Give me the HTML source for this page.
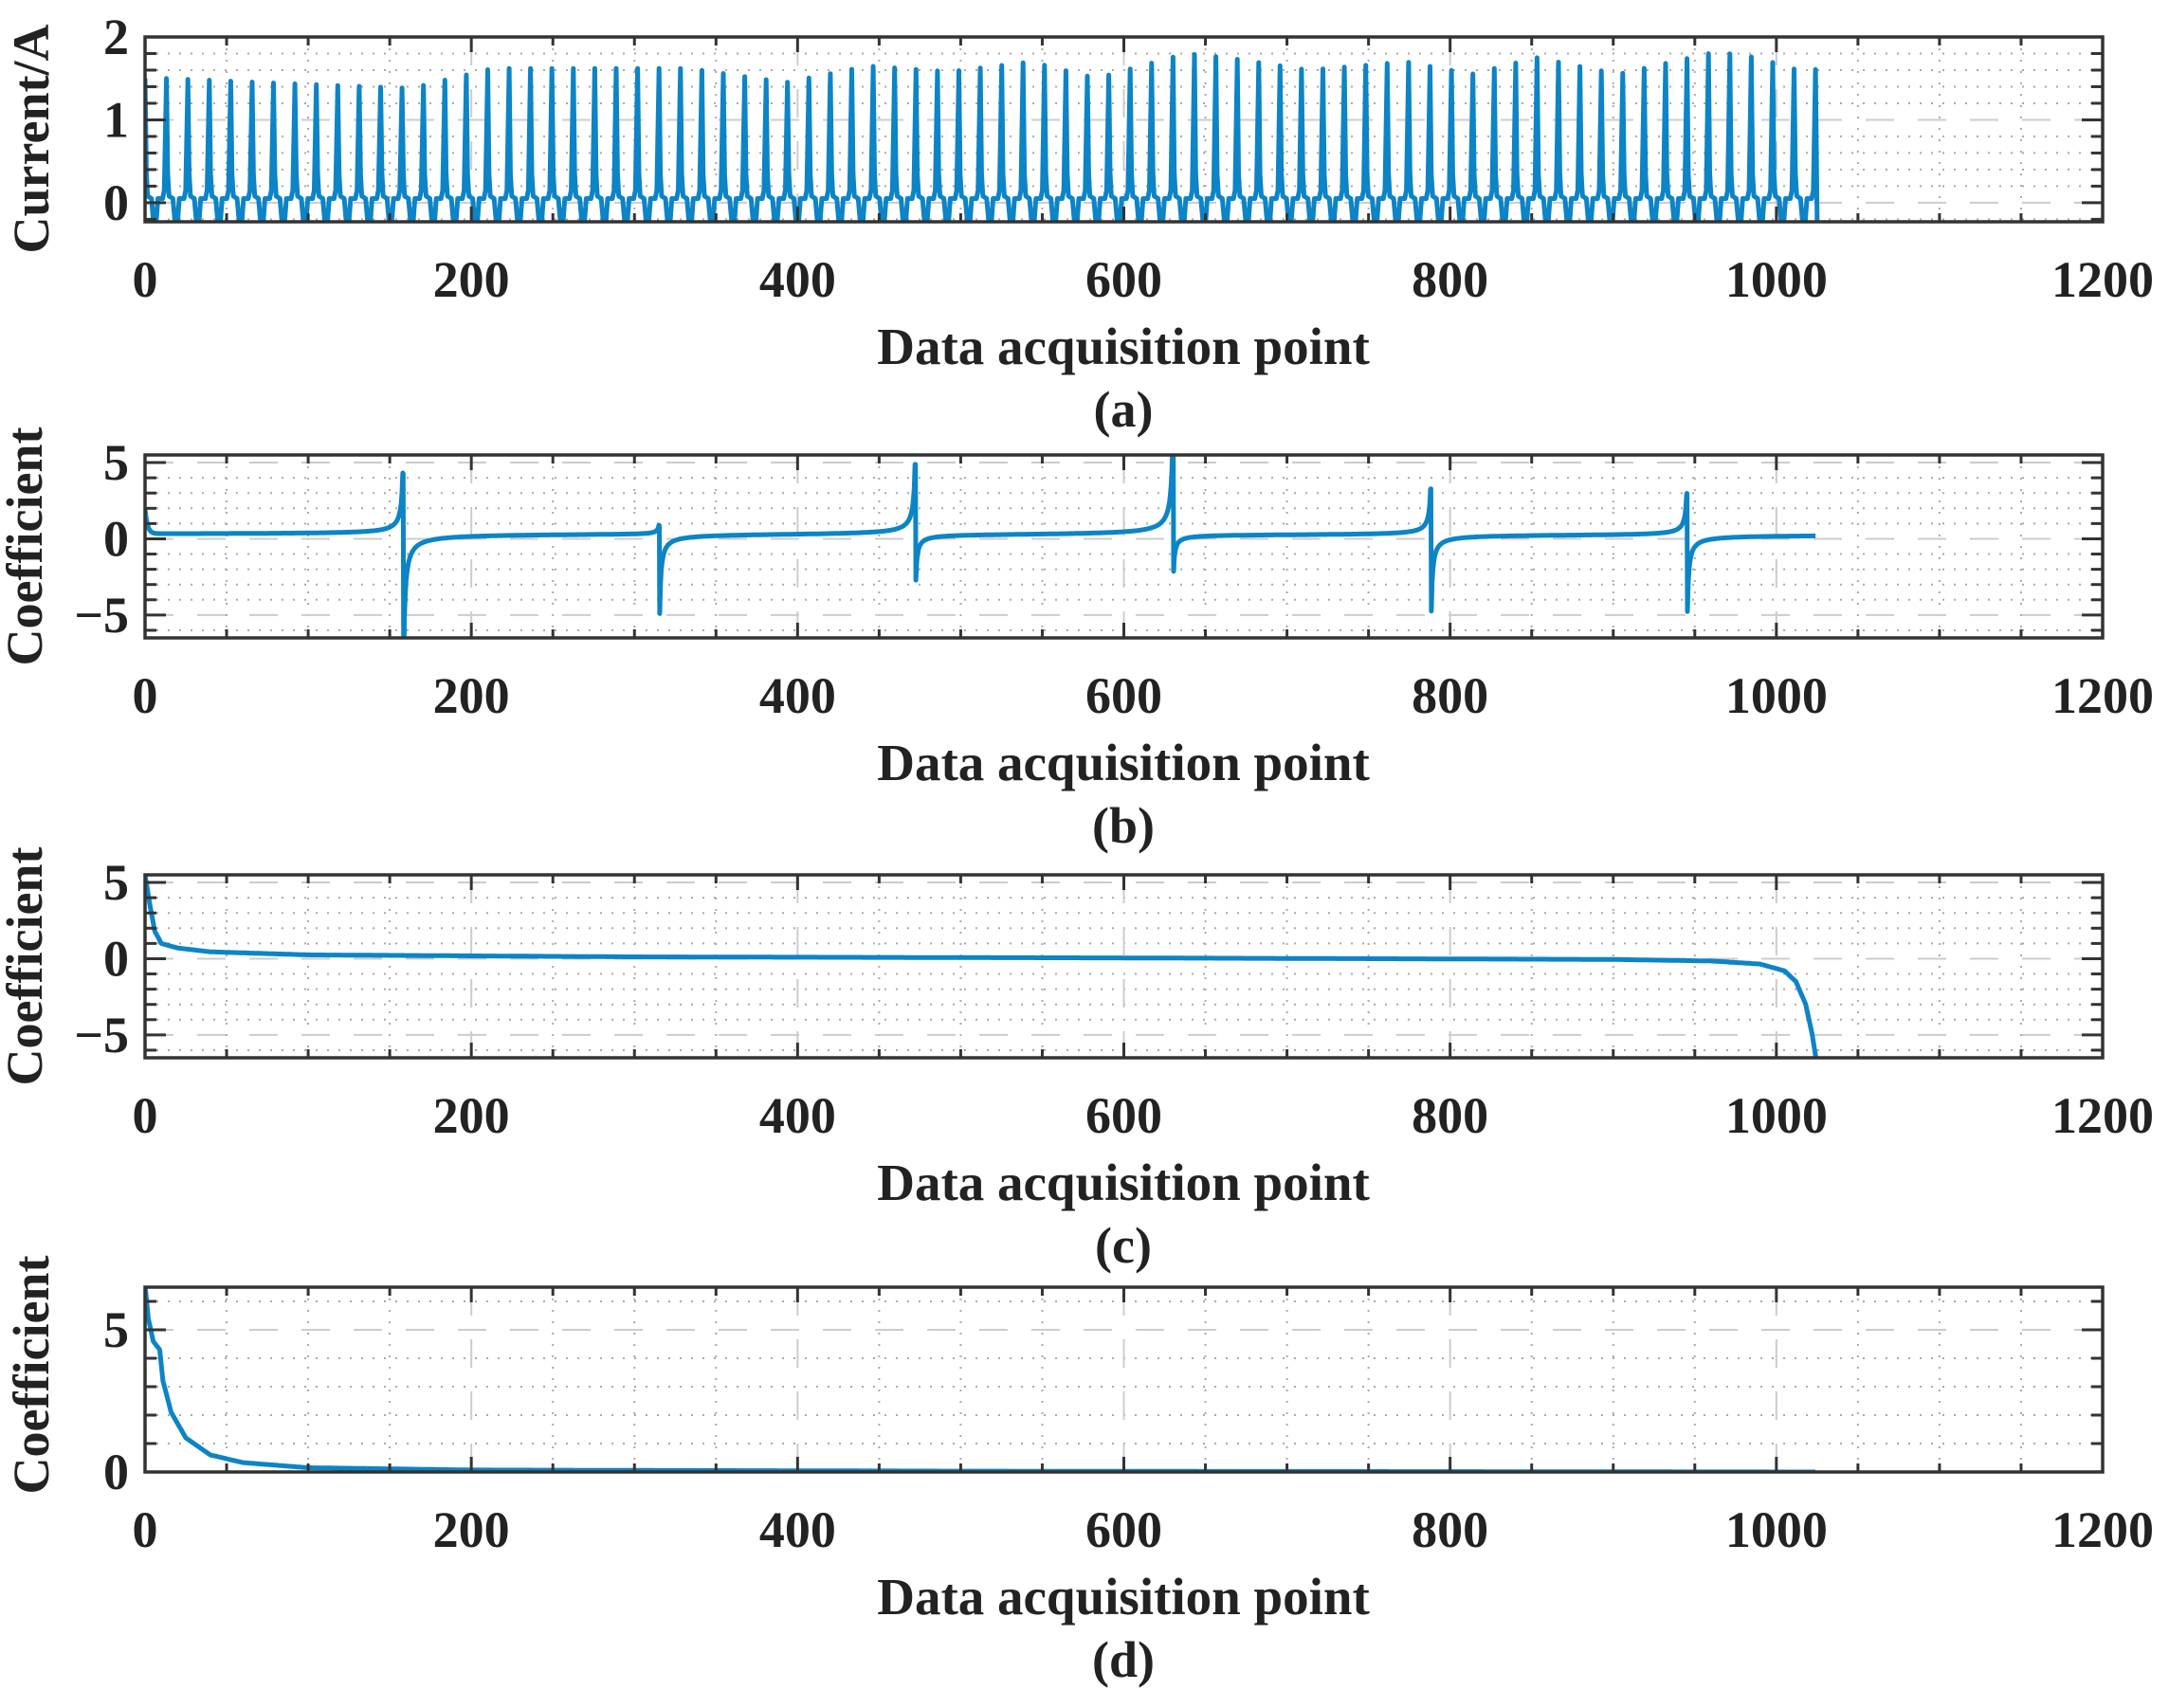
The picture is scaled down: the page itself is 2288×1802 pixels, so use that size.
<!DOCTYPE html>
<html><head><meta charset="utf-8"><style>
html,body{margin:0;padding:0;background:#fff;}
svg text{font-family:"Liberation Serif",serif;font-weight:bold;fill:#222;}
</style></head><body>
<svg id="s" xmlns="http://www.w3.org/2000/svg" width="2288" height="1797" viewBox="0 0 2288 1797"></svg>
<script>
const S=document.getElementById('s');const NS='http://www.w3.org/2000/svg';
function el(t,a,txt){const e=document.createElementNS(NS,t);for(const k in a)e.setAttribute(k,a[k]);if(txt!==undefined)e.textContent=txt;S.appendChild(e);return e;}
const L=153,R=2218;
const X=v=>L+(R-L)*v/1200;
function interp(pts,x){for(let i=1;i<pts.length;i++){if(x<=pts[i][0]){const a=pts[i-1],b=pts[i];return a[1]+(b[1]-a[1])*(x-a[0])/(b[0]-a[0]);}}return pts[pts.length-1][1];}
function panel(T,B,ymin,ymax,yt,ym,ylab,caption,data,id){
  const Y=v=>B-(B-T)*(v-ymin)/(ymax-ymin);
  for(let v=50;v<1200;v+=50){if(v%200)el('line',{x1:X(v),x2:X(v),y1:T,y2:B,stroke:'#aaa','stroke-width':2,'stroke-dasharray':'2 10'});}
  for(let i=0;i<ym.length;i++){el('line',{x1:L,x2:R,y1:Y(ym[i]),y2:Y(ym[i]),stroke:'#aaa','stroke-width':2,'stroke-dasharray':'2 10'});}
  for(let v=200;v<1200;v+=200)el('line',{x1:X(v),x2:X(v),y1:T,y2:B,stroke:'#ccc','stroke-width':2,'stroke-dasharray':'30 25'});
  yt.forEach(v=>el('line',{x1:L,x2:R,y1:Y(v),y2:Y(v),stroke:'#ccc','stroke-width':2,'stroke-dasharray':'30 25'}));
  const c=el('clipPath',{id:'c'+id});const cp=document.createElementNS(NS,'rect');c.appendChild(cp);
  cp.setAttribute('x',L);cp.setAttribute('y',T);cp.setAttribute('width',R-L);cp.setAttribute('height',B-T);
  let d='';data.forEach((p,i)=>{d+=(i?'L':'M')+X(p[0]).toFixed(1)+' '+Y(p[1]).toFixed(1);});
  el('path',{d:d,fill:'none',stroke:'#0c84c6','stroke-width':5,'stroke-linejoin':'round','clip-path':'url(#c'+id+')'});
  for(let v=0;v<=1200;v+=50){const len=v%200?9:16;el('line',{x1:X(v),x2:X(v),y1:B,y2:B-len,stroke:'#333','stroke-width':3});el('line',{x1:X(v),x2:X(v),y1:T,y2:T+len,stroke:'#333','stroke-width':3});}
  ym.concat(yt).forEach(v=>{const len=yt.includes(v)?22:12;el('line',{x1:L,x2:L+len,y1:Y(v),y2:Y(v),stroke:'#333','stroke-width':3});el('line',{x1:R,x2:R-len,y1:Y(v),y2:Y(v),stroke:'#333','stroke-width':3});});
  el('rect',{x:L,y:T,width:R-L,height:B-T,fill:'none',stroke:'#333','stroke-width':3.5});
  for(let v=0;v<=1200;v+=200)el('text',{x:X(v),y:B+79,'text-anchor':'middle','font-size':54},String(v));
  yt.forEach(v=>el('text',{x:136,y:Y(v)+18,'text-anchor':'end','font-size':54},v<0?'\u2212'+(-v):String(v)));
  el('text',{x:1185,y:B+150,'text-anchor':'middle','font-size':55},'Data acquisition point');
  el('text',{x:1185,y:B+216,'text-anchor':'middle','font-size':54},caption);
  const cy=(T+B)/2+ (id==='a'?10:(id==='d'?-5:0));
  el('text',{x:ylab[0],y:cy,'text-anchor':'middle','font-size':54,transform:'rotate(-90 '+ylab[0]+' '+cy+')'},ylab[1]);
}
const pk=[[0,1.5],[60,1.45],[150,1.38],[200,1.62],[320,1.62],[380,1.45],[430,1.65],[480,1.58],[530,1.7],[570,1.5],[625,1.8],[650,1.75],[700,1.6],[760,1.7],[800,1.55],[840,1.75],[890,1.55],[950,1.82],[975,1.75],[1000,1.6],[1024,1.62]];
const P=1024/78;let da=[];
for(let k=0;k<78;k++){const x0=k*P,h=interp(pk,x0);
 const sh=[[0,h],[0.06,0.35],[0.12,0.08],[0.3,0.05],[0.42,-0.3],[0.5,-0.3],[0.6,0.05],[0.82,0.05],[0.9,0.15],[1,h]];
 sh.forEach((s,i)=>{if(k>0&&i==0)return;da.push([x0+s[0]*P,s[1]]);});}
da.push([1025,-0.3]);
panel(39,234,-0.23,2,[0,1,2],[0.2,0.4,0.6,0.8,1.2,1.4,1.6,1.8,-0.2],[51,'Current/A'],'(a)',da,'a');
const ev=[[158,4.0,9],[315,0.6,5.2],[472,4.6,3.0],[630,6.5,2.4],[788,3.0,5.0],[945,2.7,5.0]];
let db=[];
for(let x=0;x<=1024;x+=0.5){let v=0.28+1.6*Math.exp(-x/1.5);
 let hit=null;
 ev.forEach(e=>{const dx=x-e[0];if(dx<=0)v+=e[1]/(1+(-dx)/1.0);else v-=e[2]/(1+(dx-0.5)/0.8);});
 ev.forEach(e=>{if(Math.abs(x-e[0]-0.5)<0.01)hit=e;});
 if(hit){db.push([x-0.25,0.28+hit[1]]);}
 db.push([x,v]);}
panel(480,673,-6.5,5.5,[-5,0,5],[-6,-4,-3,-2,-1,1,2,3,4],[44,'Coefficient'],'(b)',db,'b');
const cpts=[[0,5.5],[3,3.5],[6,1.8],[10,1.0],[20,0.7],[40,0.45],[100,0.25],[300,0.12],[600,0.05],[900,-0.05],[960,-0.15],[990,-0.35],[1005,-0.8],[1012,-1.5],[1018,-3],[1022,-5],[1025,-7]];
let dc=[];for(let x=0;x<=1025;x+=1)dc.push([x,interp(cpts,x)]);
panel(923,1116,-6.5,5.5,[-5,0,5],[-6,-4,-3,-2,-1,1,2,3,4],[44,'Coefficient'],'(c)',dc,'c');
const dpts=[[0,6.6],[2,5.4],[5,4.6],[9,4.3],[11,3.2],[16,2.1],[25,1.2],[40,0.6],[60,0.33],[100,0.15],[200,0.07],[500,0.03],[1024,0.0]];
let dd=[];for(let x=0;x<=1024;x+=1)dd.push([x,interp(dpts,x)]);
panel(1358,1553,0,6.5,[0,5],[1,2,3,4,6],[51,'Coefficient'],'(d)',dd,'d');
</script>
</body></html>
